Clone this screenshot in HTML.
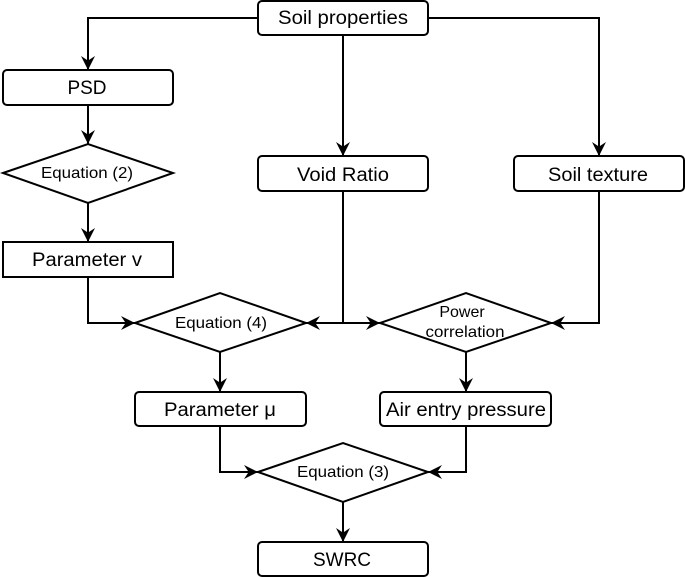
<!DOCTYPE html>
<html><head><style>body{margin:0;background:#fff}svg{display:block}</style></head><body>
<svg width="685" height="577" viewBox="0 0 685 577" xmlns="http://www.w3.org/2000/svg" font-family="Liberation Sans, sans-serif">
<defs>
<marker id="b" viewBox="0 0 12 12" refX="12" refY="6" markerWidth="14" markerHeight="14" markerUnits="userSpaceOnUse" orient="auto"><path d="M0,0 L12,6 L0,12 L4,6 Z" fill="#000"/></marker></defs>
<g fill="none" stroke="#000" stroke-width="2">
<path d="M258 18 H88 V70" marker-end="url(#b)"/>
<path d="M428 18 H599 V156" marker-end="url(#b)"/>
<path d="M343 35 V156" marker-end="url(#b)"/>
<path d="M88 105 V144" marker-end="url(#b)"/>
<path d="M88 203 V242" marker-end="url(#b)"/>
<path d="M88 277 V323 H135" marker-end="url(#b)"/>
<path d="M343 191 V323 H306" marker-end="url(#b)"/>
<path d="M343 323 H380" marker-end="url(#b)"/>
<path d="M599 191 V323 H551" marker-end="url(#b)"/>
<path d="M220 352 V392" marker-end="url(#b)"/>
<path d="M466 352 V392" marker-end="url(#b)"/>
<path d="M220 426 V472 H258" marker-end="url(#b)"/>
<path d="M466 426 V472 H428" marker-end="url(#b)"/>
<path d="M343 502 V542" marker-end="url(#b)"/>
<rect x="258" y="1" width="170" height="34" rx="4" fill="#fff"/>
<rect x="3" y="70" width="170" height="35" rx="4" fill="#fff"/>
<polygon points="3,173 88,144 173,173 88,203" fill="#fff"/>
<rect x="3" y="242" width="170" height="35" fill="#fff"/>
<rect x="258" y="156" width="170" height="35" rx="4" fill="#fff"/>
<rect x="514" y="156" width="170" height="35" rx="4" fill="#fff"/>
<polygon points="135,323 220,293 306,323 220,352" fill="#fff"/>
<polygon points="380,323 466,293 551,323 466,352" fill="#fff"/>
<rect x="135" y="392" width="171" height="34" rx="4" fill="#fff"/>
<rect x="380" y="392" width="171" height="34" rx="4" fill="#fff"/>
<polygon points="258,472 343,443 428,472 343,502" fill="#fff"/>
<rect x="258" y="542" width="170" height="34" rx="4" fill="#fff"/>
</g>
<g text-anchor="middle" font-size="19" fill="#000">
<text x="343" y="24" textLength="130" lengthAdjust="spacingAndGlyphs">Soil properties</text>
<text x="87" y="94">PSD</text>
<text x="87" y="266" textLength="110" lengthAdjust="spacingAndGlyphs">Parameter v</text>
<text x="343" y="181" textLength="92" lengthAdjust="spacingAndGlyphs">Void Ratio</text>
<text x="598" y="181" textLength="100" lengthAdjust="spacingAndGlyphs">Soil texture</text>
<text x="220" y="416" textLength="112" lengthAdjust="spacingAndGlyphs">Parameter μ</text>
<text x="466" y="416" textLength="160" lengthAdjust="spacingAndGlyphs">Air entry pressure</text>
<text x="342" y="566">SWRC</text>
</g>
<g text-anchor="middle" font-size="16" fill="#000">
<text x="87" y="178" textLength="92" lengthAdjust="spacingAndGlyphs">Equation (2)</text>
<text x="221" y="328" textLength="92" lengthAdjust="spacingAndGlyphs">Equation (4)</text>
<text x="462" y="317">Power</text>
<text x="465" y="337" textLength="79" lengthAdjust="spacingAndGlyphs">correlation</text>
<text x="343" y="477" textLength="92" lengthAdjust="spacingAndGlyphs">Equation (3)</text>
</g>
</svg>
</body></html>
